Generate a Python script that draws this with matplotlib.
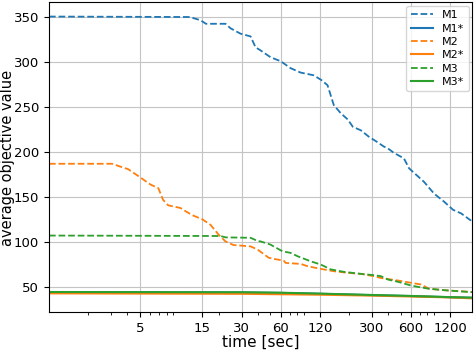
import matplotlib
matplotlib.use("Agg")
import matplotlib.pyplot as plt
from matplotlib.ticker import NullFormatter

# values (time in sec, average objective value)
t_m1 = [1, 12, 14.5, 16, 22.6, 24.7, 29.5, 35.2, 38.4, 42, 50, 60, 71, 85, 107, 122, 137,
        153, 173, 196, 214, 247, 284, 322, 371, 398, 443, 528, 578, 631, 753, 899, 1074,
        1259, 1452, 1730]
v_m1 = [350, 349.5, 346, 342, 342, 337, 331, 328, 316, 312.5, 305, 300.5, 293, 288, 285,
        280, 274, 252, 243, 236, 228, 224, 217, 212, 206, 204, 199, 193, 182, 177, 167, 154,
        145, 136, 132, 124]

t_m2 = [1, 3.05, 3.5, 4.05, 5.0, 6.0, 6.9, 7.5, 8.2, 10.2, 10.7, 12.6, 15, 17.3, 20, 22.6,
        26, 35.2, 39.8, 48.4, 52.8, 63.1, 65.4, 85.3, 96.5, 121.6, 153, 196, 247, 311, 352,
        475, 598, 714, 823, 1074, 1375, 1760]
v_m2 = [187, 187, 184, 181, 172, 164, 160, 147, 141, 138, 136, 130, 125.5, 119.5, 108.5,
        101, 97, 95.5, 92, 83, 81.7, 79.8, 77.2, 76.1, 73.5, 70.6, 68, 66.2, 65, 62.5, 60.5,
        57.7, 55.2, 53.3, 48.6, 47, 46, 45]

t_m3 = [1, 20.7, 22.6, 35.2, 39.8, 42, 50, 52.8, 62, 71.4, 81, 101.7, 121.6, 145, 183, 247,
        311, 352, 398, 475, 598, 675, 823, 1074, 1760]
v_m3 = [107.5, 107, 105.5, 105, 101.5, 101, 97.5, 95.5, 90, 88.3, 84.5, 79, 75.4, 70, 67.3,
        65.1, 63.6, 62.5, 58.8, 56.3, 52.2, 50.7, 48.6, 47, 44.8]

t_star = [1, 30, 60, 120, 300, 600, 1200, 1760]
v_m1s = [44.8, 44.5, 44, 43, 41.5, 40.5, 39.2, 38.6]
v_m2s = [43.5, 43, 42.5, 42, 41, 40, 39, 38]
v_m3s = [45, 44.7, 44.2, 43.2, 41.7, 40.6, 39.3, 38.7]

xticks = [5, 15, 30, 60, 120, 300, 600, 1200]

fig = plt.figure(figsize=(4.74, 3.53), dpi=100)
ax = fig.add_axes([0.1034, 0.115, 0.8925, 0.878])

ax.plot(t_m1, v_m1, '--', color='C0', lw=1.3, label='M1')
ax.plot(t_star, v_m1s, '-', color='C0', lw=1.5, label='M1*')
ax.plot(t_m2, v_m2, '--', color='C1', lw=1.3, label='M2')
ax.plot(t_star, v_m2s, '-', color='C1', lw=1.5, label='M2*')
ax.plot(t_m3, v_m3, '--', color='C2', lw=1.3, label='M3')
ax.plot(t_star, v_m3s, '-', color='C2', lw=1.5, label='M3*')

ax.set_xscale('log')
ax.set_xlim(1, 1760)
ax.set_xticks(xticks)
ax.set_xticklabels([str(x) for x in xticks])
ax.xaxis.set_minor_formatter(NullFormatter())
ax.tick_params(labelsize=9.5)
ax.grid(True, which='major', color='#c4c4c4', lw=0.8)

ax.set_xlabel('time [sec]', fontsize=11, labelpad=0)
ax.set_ylabel('average objective value', fontsize=10.5)
ax.yaxis.set_label_coords(-0.08, 0.5)
ax.legend(loc='upper right', fontsize=8, handlelength=2.0, labelspacing=0.3,
          borderaxespad=0.3)

fig.savefig('out.png', dpi=100)
